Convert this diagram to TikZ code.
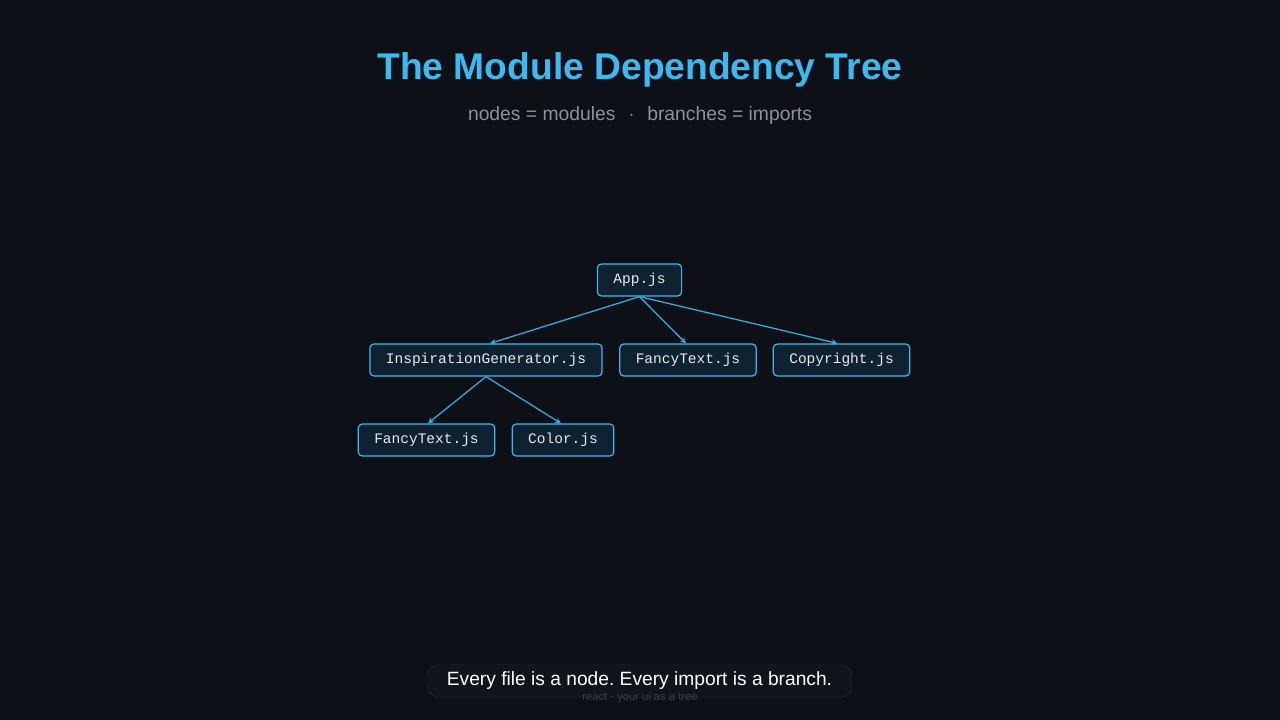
\documentclass[tikz,border=0pt]{standalone}
\usepackage{fontspec}
\setmainfont{Liberation Sans}
\setmonofont{Liberation Mono}
\usetikzlibrary{arrows.meta}

\definecolor{bgdark}{HTML}{0D1117}
\definecolor{titleblue}{HTML}{3DB8F0}
\definecolor{subgray}{HTML}{8B929C}
\definecolor{boxfill}{HTML}{0F2232}
\definecolor{boxline}{HTML}{45B4E8}
\definecolor{edgeblue}{HTML}{3AA6DA}
\definecolor{capfill}{HTML}{10151C}
\definecolor{capline}{HTML}{262D36}
\definecolor{tagfaint}{HTML}{3A4048}

\tikzset{
    module/.style={draw=boxline, fill=boxfill, line width=1.2pt, rounded corners=4pt,
        minimum height=32pt, inner xsep=16pt, text=white!92!black,
        font=\ttfamily\fontsize{14.5}{16}\selectfont},
    branch/.style={edgeblue, line width=1.3pt, -{Stealth[length=6pt,width=6pt]}}
}

\begin{document}
\frenchspacing
\begin{tikzpicture}[x=1pt,y=-1pt]
    % Background and canvas size
    \fill[bgdark] (0,0) rectangle (1280,720);
    \useasboundingbox (0,0) rectangle (1280,720);

    % Title and subtitle
    \node (title) at (640,70) {\fontsize{37.2}{42}\selectfont\bfseries\color{titleblue}The Module Dependency Tree};
    \node (subtitle) at (640,116) {\fontsize{19.3}{23}\selectfont\color{subgray}nodes = modules\hspace{13pt}$\cdot$\hspace{13pt}branches = imports};

    % Module nodes
    \node[module] (app) at (639.5,280) {App.js};
    \node[module] (insp) at (486,360) {InspirationGenerator.js};
    \node[module] (fancy) at (688,360) {FancyText.js};
    \node[module] (copy) at (841.5,360) {Copyright.js};
    \node[module] (fancyb) at (426.5,440) {FancyText.js};
    \node[module] (color) at (563,440) {Color.js};

    % Imports
    \draw[branch] (app.south) -- ([xshift=4pt]insp.north);
    \draw[branch] (app.south) -- ([xshift=-2pt]fancy.north);
    \draw[branch] (app.south) -- ([xshift=-4pt]copy.north);
    \draw[branch] (insp.south) -- ([xshift=1.5pt]fancyb.north);
    \draw[branch] (insp.south) -- ([xshift=-2pt]color.north);

    % Caption
    \node[draw=capline, fill=capfill, rounded corners=12pt, minimum width=425pt, minimum height=33pt,
        text=white, font=\fontsize{19.2}{22}\selectfont] (caption) at (639.5,681) {Every file is a node. Every import is a branch.};
    \node[text=tagfaint, font=\fontsize{11.2}{13}\selectfont] (tag) at (640,698) {react - your ui as a tree};
\end{tikzpicture}
\end{document}
